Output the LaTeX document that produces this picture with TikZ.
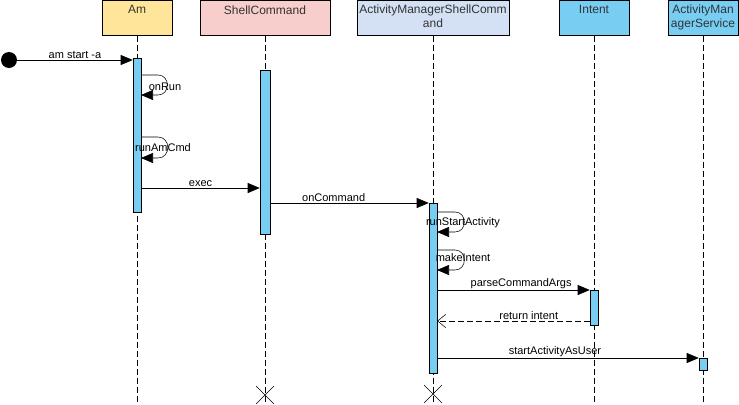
\documentclass[tikz,border=0pt]{standalone}
\usepackage{fontspec}
\setmainfont{Liberation Sans}
\usetikzlibrary{arrows.meta}
\definecolor{amfill}{HTML}{FFE599}
\definecolor{shfill}{HTML}{F8CECC}
\definecolor{amscfill}{HTML}{D4E1F5}
\definecolor{actfill}{HTML}{78CDF3}
\definecolor{txt}{HTML}{333333}
\tikzset{
  head/.style={draw, minimum height=35*0.75pt, inner sep=1pt, align=center, text=txt, font=\fontsize{9}{10.5}\selectfont},
  life/.style={draw, dashed, dash pattern=on 4.5pt off 2.25pt},
  act/.style={draw, fill=actfill},
  msg/.style={draw, -{Triangle[length=9pt,width=7.5pt]}},
  ret/.style={draw, dashed, dash pattern=on 4.5pt off 2.25pt, -{Straight Barb[length=6pt,width=10pt]}},
  lbl/.style={font=\fontsize{8.25}{10}\selectfont, inner sep=1pt}
}
\begin{document}
\begin{tikzpicture}[x=0.75pt,y=-0.75pt]
\useasboundingbox (0,0) rectangle (739,404);
% headers
\node[head, fill=amfill, minimum width=70*0.75pt, anchor=north, text depth=12pt] (am) at (137,0) {Am};
\node[head, fill=shfill, minimum width=130*0.75pt, anchor=north, text depth=12pt] (sh) at (265,0) {ShellCommand};
\node[head, fill=amscfill, minimum width=152*0.75pt, anchor=north, text depth=3pt] (amsc) at (433,0) {ActivityManagerShellComm\\and};
\node[head, fill=actfill, minimum width=70*0.75pt, anchor=north, text depth=12pt] (in) at (594,0) {Intent};
\node[head, fill=actfill, minimum width=70*0.75pt, anchor=north, text depth=3pt] (ams) at (703,0) {ActivityMan\\agerService};
% lifeline ends
\coordinate (amE) at (137,404);
\coordinate (shE) at (265,404);
\coordinate (amscE) at (433,404);
\coordinate (inE) at (594,404);
\coordinate (amsE) at (703,404);
\draw[life] (am.south) -- (amE);
\draw[life] (sh.south) -- (shE);
\draw[life] (amsc.south) -- (amscE);
\draw[life] (in.south) -- (inE);
\draw[life] (ams.south) -- (amsE);
% activations
\node[act, minimum width=8*0.75pt, minimum height=154*0.75pt, inner sep=0, anchor=north] (aAm) at (137,58) {};
\node[act, minimum width=10*0.75pt, minimum height=164*0.75pt, inner sep=0, anchor=north] (aSh) at (265,70) {};
\node[act, minimum width=8*0.75pt, minimum height=170*0.75pt, inner sep=0, anchor=north] (aAmsc) at (433,203) {};
\node[act, minimum width=8*0.75pt, minimum height=35*0.75pt, inner sep=0, anchor=north] (aIn) at (594,290) {};
\node[act, minimum width=8*0.75pt, minimum height=12*0.75pt, inner sep=0, anchor=north] (aAms) at (703,358) {};
% destroy marks
\draw (256,386) -- (274,404) (274,386) -- (256,404);
\draw (424,385) -- (442,403) (442,385) -- (424,403);
% start
\node[circle, fill=black, minimum size=16*0.75pt, inner sep=0] (st) at (9,60) {};
\draw[msg] (st) -- (aAm.west |- st) node[lbl, midway, above] {am start -a};
% self calls
\draw[msg] (141,75) -- (158,75) to[out=0,in=0,looseness=1.6] (158,95) -- (141,95);
\node[lbl] (l1) at (165,87) {onRun};
\draw[msg] (141,137) -- (158,137) to[out=0,in=0,looseness=1.6] (158,158) -- (141,158);
\node[lbl] (l2) at (163,148) {runAmCmd};
\draw[msg] (aAm.east |- 0,188) -- (aSh.west |- 0,188) node[lbl, midway, above] {exec};
\draw[msg] (aSh.east |- 0,203) -- (aAmsc.west |- 0,203) node[lbl, pos=0.4, above] {onCommand};
\draw[msg] (437,212) -- (455,212) to[out=0,in=0,looseness=1.6] (455,232) -- (437,232);
\node[lbl] (l3) at (463,223) {runStartActivity};
\draw[msg] (437,250) -- (455,250) to[out=0,in=0,looseness=1.6] (455,270) -- (437,270);
\node[lbl] (l4) at (463,258) {makeIntent};
\draw[msg] (aAmsc.east |- 0,290) -- (aIn.west |- 0,290) node[lbl, pos=0.55, above] {parseCommandArgs};
\draw[ret] (aIn.west |- 0,321) -- (aAmsc.east |- 0,321) node[lbl, pos=0.4, above] {return intent};
\draw[msg] (aAmsc.east |- 0,358) -- (aAms.west |- 0,358) node[lbl, pos=0.45, above] {startActivityAsUser};
\end{tikzpicture}
\end{document}
